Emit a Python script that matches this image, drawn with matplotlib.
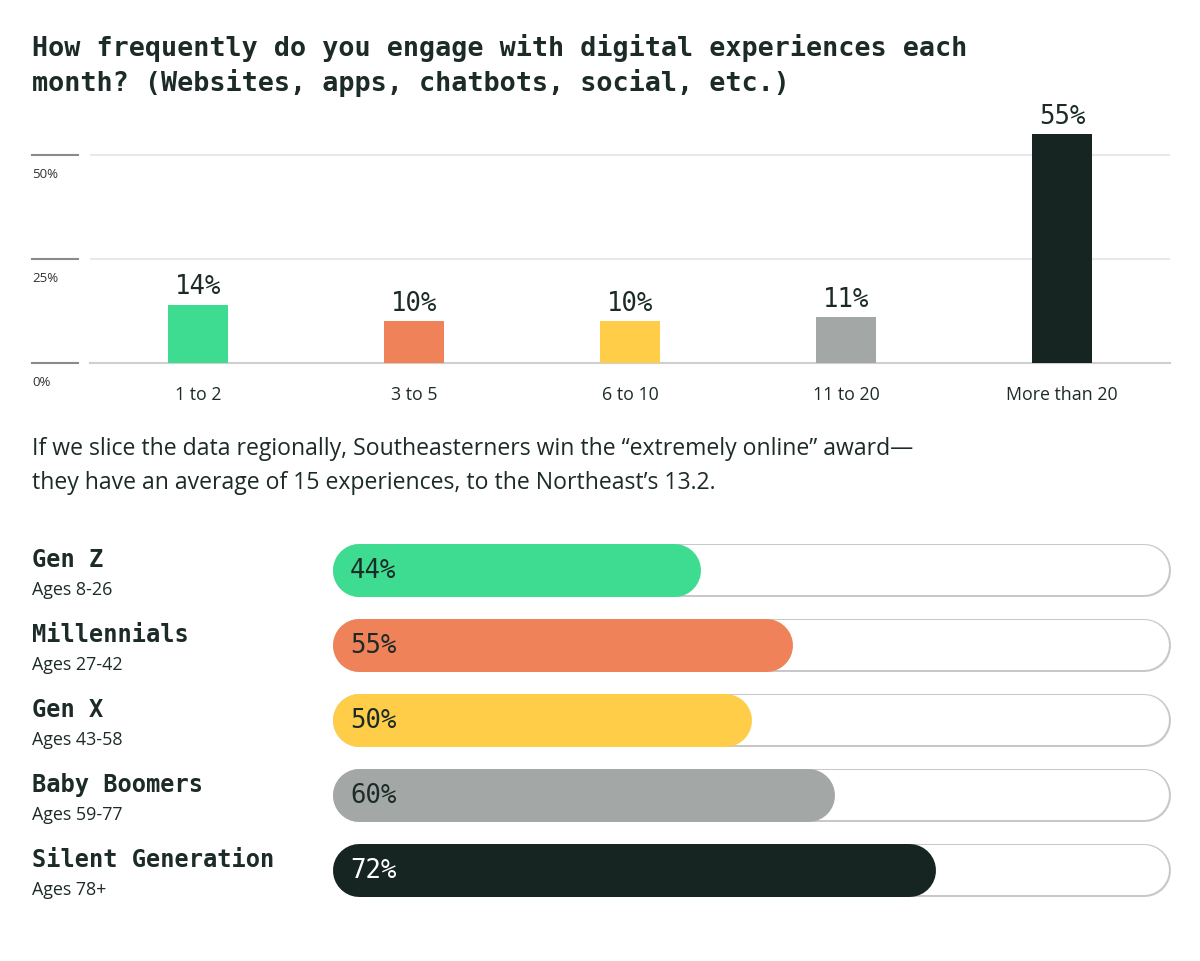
import matplotlib
matplotlib.use("Agg")
import matplotlib.pyplot as plt

# ---------------- data ----------------
freq_categories = ["1 to 2", "3 to 5", "6 to 10", "11 to 20", "More than 20"]
freq_values = [14, 10, 10, 11, 55]
freq_colors = ["#3DDC91", "#EF8259", "#FFCD48", "#A3A8A6", "#172522"]
y_ticks = [0, 25, 50]
y_tick_labels = ["0%", "25%", "50%"]

generations = ["Gen Z", "Millennials", "Gen X", "Baby Boomers", "Silent Generation"]
gen_ages = ["Ages 8-26", "Ages 27-42", "Ages 43-58", "Ages 59-77", "Ages 78+"]
gen_values = [44, 55, 50, 60, 72]
gen_colors = ["#3DDC91", "#EF8259", "#FFCD48", "#A3A8A6", "#172522"]
gen_text_colors = ["#1c2b28", "#1c2b28", "#1c2b28", "#1c2b28", "#ffffff"]

title_lines = ["How frequently do you engage with digital experiences each",
               "month? (Websites, apps, chatbots, social, etc.)"]
body_lines = ["If we slice the data regionally, Southeasterners win the \u201cextremely online\u201d award\u2014",
              "they have an average of 15 experiences, to the Northeast\u2019s 13.2."]

DARK = "#1c2b28"
W, H = 1200, 962
fig = plt.figure(figsize=(W / 100, H / 100), dpi=100)
fig.patch.set_facecolor("white")

def fx(px):
    return px / W

def fy(py):
    return 1 - py / H

# ---------------- title ----------------
fig.text(fx(32), fy(48), title_lines[0], fontsize=19.3, fontweight="bold",
         family="DejaVu Sans Mono", color=DARK, va="center", ha="left")
fig.text(fx(32), fy(83), title_lines[1], fontsize=19.3, fontweight="bold",
         family="DejaVu Sans Mono", color=DARK, va="center", ha="left")

# ---------------- top bar chart ----------------
ax_top, ax_bot = 364, 110
ax = fig.add_axes([fx(90), fy(ax_top), 1080 / W, (ax_top - ax_bot) / H])
px_per_pct = 104 / 25
ax.set_ylim(0, (ax_top - ax_bot) / px_per_pct)
ax.set_xlim(-0.5, len(freq_categories) - 0.5)
xs = list(range(len(freq_categories)))
bars = ax.bar(xs, freq_values, width=60 / 216, color=freq_colors, zorder=3)
for b, v in zip(bars, freq_values):
    ax.annotate(f"{v}%", (b.get_x() + b.get_width() / 2, b.get_height()),
                xytext=(0, 4), textcoords="offset points", ha="center", va="bottom",
                fontsize=18.5, family="DejaVu Sans Mono", color=DARK)

for s in ["top", "right", "left"]:
    ax.spines[s].set_visible(False)
ax.spines["bottom"].set_color("#cfcfcf")
ax.spines["bottom"].set_linewidth(1.5)
ax.set_yticks([])
for t in y_ticks[1:]:
    ax.axhline(t, color="#e8e8e8", lw=1.5, zorder=1)
ax.set_xticks(xs)
ax.set_xticklabels(freq_categories, fontsize=12.8, family="Open Sans", color=DARK)
ax.tick_params(axis="x", length=0, pad=16)

tr = ax.get_yaxis_transform()
x0, x1 = (32 - 90) / 1080, (78 - 90) / 1080
for t, lab in zip(y_ticks, y_tick_labels):
    ax.plot([x0, x1], [t, t], transform=tr, color="#8a8a8a", lw=1.5, clip_on=False)
    ax.annotate(lab, (x0, t), xycoords=tr, xytext=(0, -13), textcoords="offset points",
                ha="left", va="center", fontsize=9.5, family="Open Sans", color="#333333")

# ---------------- body text ----------------
fig.text(fx(32), fy(449), body_lines[0], fontsize=16.6, family="Open Sans", color=DARK,
         va="center", ha="left")
fig.text(fx(32), fy(483), body_lines[1], fontsize=16.6, family="Open Sans", color=DARK,
         va="center", ha="left")

# ---------------- generation progress bars ----------------
left_px, right_px = 332, 1170
top_px, bottom_px = 530, 910
ppu = (right_px - left_px) / 100.0
bx = fig.add_axes([fx(left_px), fy(bottom_px), (right_px - left_px) / W, (bottom_px - top_px) / H])
bx.set_xlim(0, 100)
bx.set_ylim(0, (bottom_px - top_px) / ppu)
bx.axis("off")

bar_px = 53
r = bar_px / 2 / ppu          # cap radius in data units
pt = 72 / 100                 # points per pixel
for i, (name, age, v, c, tc) in enumerate(zip(generations, gen_ages, gen_values,
                                               gen_colors, gen_text_colors)):
    yc = (bottom_px - (571 + 75 * i)) / ppu
    # track: grey outline pill + white inner pill
    bx.plot([r, 100 - r], [yc, yc], lw=bar_px * pt, color="#c8c8c8",
            solid_capstyle="round", clip_on=False, zorder=1)
    bx.plot([r, 100 - r], [yc, yc], lw=(bar_px - 3) * pt, color="white",
            solid_capstyle="round", clip_on=False, zorder=1.5)
    # filled value pill
    bx.plot([r, v - r], [yc, yc], lw=bar_px * pt, color=c,
            solid_capstyle="round", clip_on=False, zorder=2)
    bx.text(18 / ppu, yc, f"{v}%", fontsize=18.5, family="DejaVu Sans Mono", color=tc,
            ha="left", va="center", zorder=3)
    bx.text((32 - left_px) / ppu, yc + 11 / ppu, name, fontsize=17, fontweight="bold",
            family="DejaVu Sans Mono", color=DARK, ha="left", va="center", clip_on=False)
    bx.text((32 - left_px) / ppu, yc - 19 / ppu, age, fontsize=12.9, family="Open Sans",
            color=DARK, ha="left", va="center", clip_on=False)

fig.savefig("out.png", dpi=100, facecolor="white")
